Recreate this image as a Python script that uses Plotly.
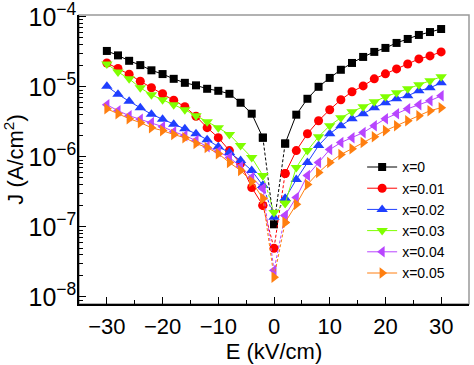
import plotly.graph_objects as go

E = [-30, -28, -26, -24, -22, -20, -18, -16, -14, -12, -10, -8, -6, -4, -2, 0,
     2, 4, 6, 8, 10, 12, 14, 16, 18, 20, 22, 24, 26, 28, 30]

J_x0 = [3.25e-5, 2.81e-5, 2.35e-5, 2.04e-5, 1.72e-5, 1.52e-5, 1.30e-5, 1.14e-5, 1.05e-5, 9.37e-6,
        8.77e-6, 7.95e-6, 5.92e-6, 4.13e-6, 1.88e-6, 1.09e-7,
        1.55e-6, 4.00e-6, 6.75e-6, 1.00e-5, 1.34e-5, 1.75e-5, 2.19e-5, 2.67e-5, 3.15e-5, 3.59e-5,
        4.23e-5, 4.82e-5, 5.50e-5, 6.05e-5, 6.68e-5]
J_x001 = [2.19e-5, 1.83e-5, 1.51e-5, 1.20e-5, 9.68e-6, 7.95e-6, 6.43e-6, 5.20e-6, 3.80e-6, 2.61e-6,
          1.88e-6, 1.23e-6, 8.03e-7, 3.66e-7, 2.03e-7, 4.96e-8,
          5.79e-7, 1.23e-6, 2.14e-6, 3.28e-6, 4.71e-6, 6.53e-6, 8.49e-6, 1.03e-5, 1.30e-5, 1.53e-5,
          1.80e-5, 2.12e-5, 2.50e-5, 2.76e-5, 3.15e-5]
J_x002 = [1.02e-5, 7.82e-6, 6.22e-6, 5.03e-6, 4.06e-6, 3.45e-6, 2.93e-6, 2.53e-6, 2.14e-6, 1.76e-6,
          1.40e-6, 1.15e-6, 8.86e-7, 6.38e-7, 3.91e-7, 1.37e-7,
          2.55e-7, 4.75e-7, 8.30e-7, 1.45e-6, 2.14e-6, 2.79e-6, 3.51e-6, 4.13e-6, 5.03e-6, 5.92e-6,
          6.75e-6, 7.45e-6, 8.77e-6, 9.68e-6, 1.14e-5]
J_x003 = [2.12e-5, 1.63e-5, 1.30e-5, 9.68e-6, 7.69e-6, 6.53e-6, 5.55e-6, 4.71e-6, 3.87e-6, 3.18e-6,
          2.61e-6, 2.08e-6, 1.45e-6, 9.78e-7, 5.42e-7, 1.61e-7,
          2.17e-7, 7.05e-7, 1.23e-6, 1.94e-6, 2.79e-6, 3.62e-6, 4.41e-6, 5.20e-6, 6.12e-6, 7.21e-6,
          8.22e-6, 9.37e-6, 1.07e-5, 1.22e-5, 1.39e-5]
J_x004 = [5.55e-6, 4.56e-6, 3.87e-6, 3.45e-6, 3.08e-6, 2.70e-6, 2.29e-6, 2.01e-6, 1.71e-6, 1.40e-6,
          1.19e-6, 9.78e-7, 7.28e-7, 5.08e-7, 3.54e-7, 2.41e-8,
          1.46e-7, 2.64e-7, 5.42e-7, 8.30e-7, 1.27e-6, 1.60e-6, 1.88e-6, 2.22e-6, 2.79e-6, 3.51e-6,
          4.13e-6, 4.86e-6, 5.55e-6, 6.32e-6, 7.45e-6]
J_x005 = [4.86e-6, 4.13e-6, 3.51e-6, 3.08e-6, 2.61e-6, 2.37e-6, 2.08e-6, 1.88e-6, 1.55e-6, 1.36e-6,
          1.11e-6, 8.30e-7, 6.38e-7, 4.46e-7, 2.55e-7, 1.92e-8,
          1.16e-7, 2.10e-7, 4.04e-7, 5.98e-7, 8.30e-7, 1.08e-6, 1.31e-6, 1.60e-6, 1.94e-6, 2.37e-6,
          2.79e-6, 3.28e-6, 3.87e-6, 4.56e-6, 5.03e-6]

series_names = ["x=0", "x=0.01", "x=0.02", "x=0.03", "x=0.04", "x=0.05"]
series_values = [J_x0, J_x001, J_x002, J_x003, J_x004, J_x005]
colors = ["#000000", "#FF0000", "#1F3FFF", "#80FF00", "#B845FF", "#FF7F10"]
symbols = ["square", "circle", "triangle-up", "triangle-down", "triangle-left", "triangle-right"]
sizes = [8, 9, 10, 10, 10, 10]

FONT = "Liberation Sans, Arial, sans-serif"

fig = go.Figure()
i0 = E.index(0)
for name, vals, c, s, sz in zip(series_names, series_values, colors, symbols, sizes):
    # solid part (gap around E=0)
    y_solid = [v if k != i0 else None for k, v in enumerate(vals)]
    fig.add_trace(go.Scatter(
        x=E, y=y_solid, name=name, mode="lines+markers",
        line=dict(color=c, width=1),
        marker=dict(symbol=s, size=sz, color=c),
        connectgaps=False,
    ))
    # dashed centre segment
    fig.add_trace(go.Scatter(
        x=E[i0 - 1:i0 + 2], y=vals[i0 - 1:i0 + 2], mode="lines+markers",
        line=dict(color=c, width=1, dash="3px,2px"),
        marker=dict(symbol=s, size=sz, color=c),
        showlegend=False, hoverinfo="skip",
    ))

fig.update_layout(
    width=474, height=365,
    margin=dict(l=79, r=5, t=15, b=61, autoexpand=False),
    paper_bgcolor="white", plot_bgcolor="white",
    font=dict(family=FONT, size=22, color="black"),
    showlegend=True,
    legend=dict(x=0.726, y=0.528, xanchor="left", yanchor="top",
                font=dict(size=14, family=FONT), bgcolor="rgba(0,0,0,0)",
                tracegroupgap=0),
    shapes=[dict(type="rect", xref="paper", yref="paper", x0=0, x1=1, y0=0, y1=1,
                 line=dict(color="#999999", width=1.5), layer="below")],
)
fig.update_xaxes(
    range=[-35, 35], tickvals=[-30, -20, -10, 0, 10, 20, 30],
    ticks="inside", ticklen=7, tickwidth=1.2, tickcolor="black",
    showline=True, linecolor="black", linewidth=1.5, mirror=False,
    showgrid=False, zeroline=False, automargin=False,
    minor=dict(ticks="inside", ticklen=4, dtick=5, tickcolor="black", showgrid=False),
    title=dict(text="E (kV/cm)", font=dict(size=22), standoff=0),
    tickfont=dict(size=22), ticklabelstandoff=2, ticklabeloverflow="allow",
)
fig.update_yaxes(
    type="log", range=[-8.1, -3.975], dtick=1, exponentformat="power",
    ticks="inside", ticklen=7, tickwidth=1.2, tickcolor="black",
    showline=True, linecolor="black", linewidth=1.5, mirror=False,
    showgrid=False, zeroline=False, automargin=False,
    minor=dict(ticks="inside", ticklen=4, dtick="D1", tickcolor="black", showgrid=False),
    title=dict(text="J (A/cm<sup>2</sup>)", font=dict(size=22), standoff=4),
    tickfont=dict(size=20), ticklabelstandoff=-3, ticklabeloverflow="allow",
)

fig.write_html("out.html", config={"displayModeBar": False},
               post_script="document.body.style.margin='0';")
